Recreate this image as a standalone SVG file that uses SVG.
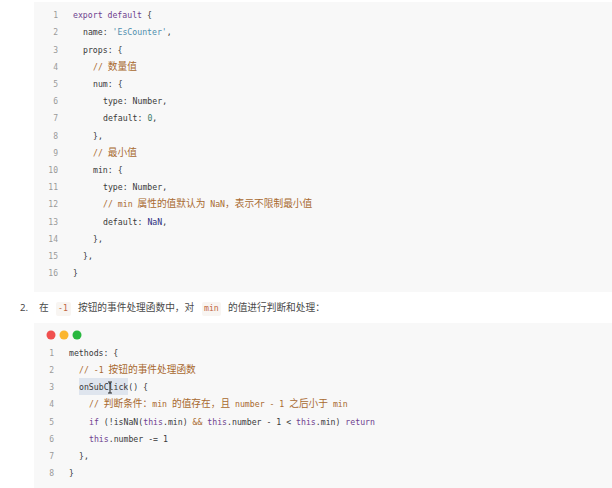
<svg xmlns="http://www.w3.org/2000/svg" width="612" height="488" viewBox="0 0 612 488">
<style>
text{font-family:"DejaVu Sans Mono","Noto Sans CJK SC",monospace;font-size:8.2px;fill:#3a3a3a;white-space:pre}
.n{fill:#9a9a9a;font-size:8px;text-anchor:end}
.k{fill:#6f3f8f}.s{fill:#4f8fae}.c,.c tspan{fill:#a8692f}.g{fill:#3f7a68}.v{fill:#2c2c80}
.z{font-family:"Noto Sans CJK SC",sans-serif;font-size:9.7px;fill:#b5793f}
.p{font-family:"Noto Sans","Noto Sans CJK SC",sans-serif;font-size:9.7px;fill:#4a4a4a}
.i{fill:#c2673f}
</style>
<rect width="612" height="488" fill="#fff"/>
<g id="block1">
<rect x="34" y="2" width="578" height="290" fill="#f8f8f8"/>
<text class="n" x="58" y="18">1</text><text x="73" y="18"><tspan class="k">export default</tspan> {</text>
<text class="n" x="58" y="35">2</text><text x="83" y="35">name: <tspan class="s">'EsCounter'</tspan>,</text>
<text class="n" x="58" y="53">3</text><text x="83" y="53">props: {</text>
<text class="n" x="58" y="70">4</text><text x="93" y="70" class="c">// <tspan class="z">数量值</tspan></text>
<text class="n" x="58" y="87">5</text><text x="93" y="87">num: {</text>
<text class="n" x="58" y="104">6</text><text x="103" y="104">type: Number,</text>
<text class="n" x="58" y="121">7</text><text x="103" y="121">default: <tspan class="g">0</tspan>,</text>
<text class="n" x="58" y="139">8</text><text x="93" y="139">},</text>
<text class="n" x="58" y="156">9</text><text x="93" y="156" class="c">// <tspan class="z">最小值</tspan></text>
<text class="n" x="58" y="173">10</text><text x="93" y="173">min: {</text>
<text class="n" x="58" y="190">11</text><text x="103" y="190">type: Number,</text>
<text class="n" x="58" y="207">12</text><text x="103" y="207" class="c">// min <tspan class="z">属性的值默认为</tspan> NaN<tspan class="z">，表示不限制最小值</tspan></text>
<text class="n" x="58" y="225">13</text><text x="103" y="225">default: <tspan class="v">NaN</tspan>,</text>
<text class="n" x="58" y="242">14</text><text x="93" y="242">},</text>
<text class="n" x="58" y="259">15</text><text x="83" y="259">},</text>
<text class="n" x="58" y="276">16</text><text x="73" y="276">}</text>
</g>
<g id="step2">
<text class="p" x="20" y="311">2.</text>
<text class="p" x="39" y="311">在</text>
<rect x="56" y="302" width="15" height="14" rx="2" fill="#f8f5f2"/>
<text class="i" x="58" y="311">-1</text>
<text class="p" x="78" y="311">按钮的事件处理函数中，对</text>
<rect x="202" y="302" width="19" height="14" rx="2" fill="#f8f5f2"/>
<text class="i" x="204" y="311">min</text>
<text class="p" x="228" y="311">的值进行判断和处理：</text>
</g>
<g id="block2">
<rect x="34" y="323" width="578" height="165" fill="#f8f8f8"/>
<circle cx="51" cy="335" r="4.5" fill="#f0504f"/>
<circle cx="64" cy="335" r="4.5" fill="#fbb62e"/>
<circle cx="77" cy="335" r="4.5" fill="#28b83f"/>
<rect x="79" y="378" width="49" height="17" fill="#dfe5ee"/>
<text class="n" x="54" y="356">1</text><text x="69" y="356">methods: {</text>
<text class="n" x="54" y="373">2</text><text x="79" y="373" class="c">// -1 <tspan class="z">按钮的事件处理函数</tspan></text>
<text class="n" x="54" y="390">3</text><text x="79" y="390">onSubClick() {</text>
<text class="n" x="54" y="407">4</text><text x="89" y="407" class="c">// <tspan class="z">判断条件：</tspan>min <tspan class="z">的值存在，且</tspan> number - 1 <tspan class="z">之后小于</tspan> min</text>
<text class="n" x="54" y="425">5</text><text x="89" y="425"><tspan class="k">if</tspan> (!isNaN(<tspan class="k">this</tspan>.min) <tspan class="c">&amp;&amp;</tspan> <tspan class="k">this</tspan>.number - 1 &lt; <tspan class="k">this</tspan>.min) <tspan class="k">return</tspan></text>
<text class="n" x="54" y="442">6</text><text x="89" y="442"><tspan class="k">this</tspan>.number -= 1</text>
<text class="n" x="54" y="459">7</text><text x="79" y="459">},</text>
<text class="n" x="54" y="476">8</text><text x="69" y="476">}</text>
<path d="M108 382h4M108 393h4M110 382v11" stroke="#222" stroke-width="1" fill="none"/>
</g>
</svg>
